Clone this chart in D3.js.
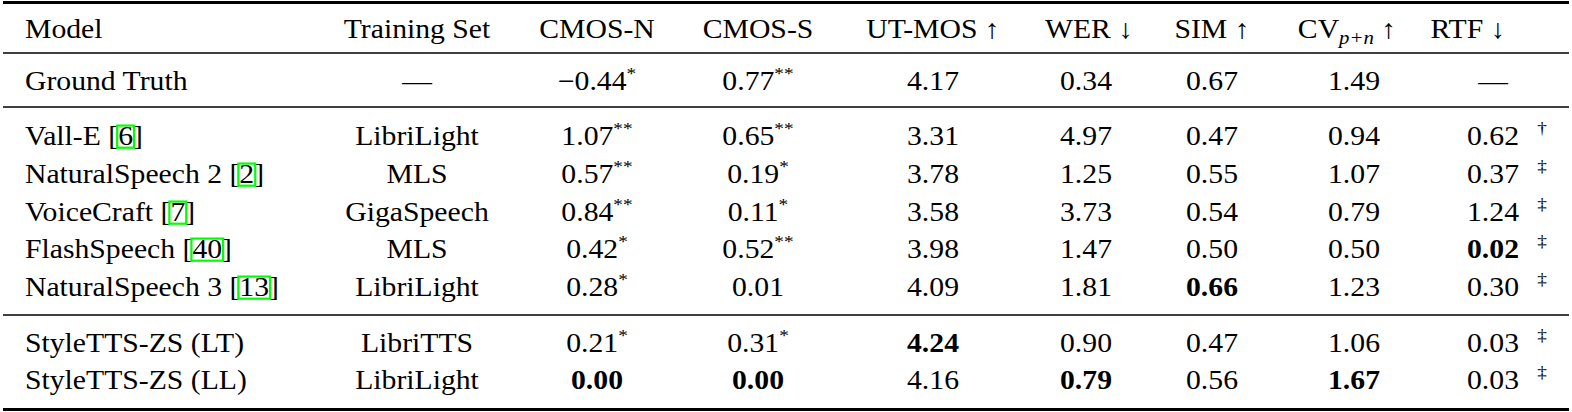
<!DOCTYPE html>
<html><head><meta charset="utf-8">
<script src="https://cdn.jsdelivr.net/npm/d3@7"></script>
<style>body{margin:0;background:#fff}</style>
</head><body><svg id="c" width="1572" height="412"></svg>
<script>
const models=["Ground Truth","Vall-E","NaturalSpeech 2","VoiceCraft","FlashSpeech","NaturalSpeech 3","StyleTTS-ZS (LT)","StyleTTS-ZS (LL)"];
const cites=[null,"6","2","7","40","13",null,null];
const trainSets=["—","LibriLight","MLS","GigaSpeech","MLS","LibriLight","LibriTTS","LibriLight"];
const cmosN=["−0.44","1.07","0.57","0.84","0.42","0.28","0.21","0.00"];
const cmosNSig=["*","**","**","**","*","*","*",""];
const cmosS=["0.77","0.65","0.19","0.11","0.52","0.01","0.31","0.00"];
const cmosSSig=["**","**","*","*","**","","*",""];
const utmos=["4.17","3.31","3.78","3.58","3.98","4.09","4.24","4.16"];
const wer=["0.34","4.97","1.25","3.73","1.47","1.81","0.90","0.79"];
const sim=["0.67","0.47","0.55","0.54","0.50","0.66","0.47","0.56"];
const cv=["1.49","0.94","1.07","0.79","0.50","1.23","1.06","1.67"];
const rtf=["—","0.62","0.37","1.24","0.02","0.30","0.03","0.03"];
const rtfMark=["","†","‡","‡","‡","‡","‡","‡"];
const bold={cmosN:[7],cmosS:[7],utmos:[6],wer:[7],sim:[5],cv:[7],rtf:[4]};
const headers=[["train","Training Set"],["cmosN","CMOS-N"],["cmosS","CMOS-S"],["utmos","UT-MOS ↑"],["wer","WER ↓"],["sim","SIM ↑"],["cv","CV"],["rtf","RTF ↓"]];

const cols=["train","cmosN","cmosS","utmos","wer","sim","cv","rtf"];
const x=d3.scaleOrdinal().domain(cols).range([417,597,758,933,1086,1212,1354,1493]);
const rowY=d3.scaleOrdinal().domain(d3.range(8)).range([90,145,183,221,258,296,352,389]);
const FS=27, SX=1.1;
const FONT="'Liberation Serif', 'Times New Roman', Times, 'Nimbus Roman', 'DejaVu Serif', serif";
const svg=d3.select("#c");
const g=svg.append("g").attr("font-family",FONT).attr("fill","#000");
function T(px,py,anchor,bld){return g.append("text").attr("font-family",FONT).attr("transform",`translate(${px},${py}) scale(${SX},1)`).attr("text-anchor",anchor).attr("font-size",FS).attr("font-weight",bld?"bold":null);}

[[2.5,3],[53,1.6],[107,1.6],[315,1.6],[409.5,3]].forEach(([y,w])=>g.append("line").attr("x1",3).attr("x2",1569).attr("y1",y).attr("y2",y).attr("stroke","#000").attr("stroke-width",w));

const HY=38;
T(25,HY,"start").text("Model");
headers.forEach(([k,t])=>{
  if(k==="cv"){const e=T(1347,HY,"middle");e.append("tspan").text("CV");e.append("tspan").attr("font-style","italic").attr("font-size",FS*0.7).attr("dy",6).text("p+n");e.append("tspan").attr("dy",-6).text(" ↑");}
  else T(k==="rtf"?1468:(k==="wer"?1089:x(k)),HY,"middle").text(t);
});

const data={cmosN,cmosS,utmos,wer,sim,cv,rtf};
const sig={cmosN:cmosNSig,cmosS:cmosSSig};
models.forEach((m,i)=>{
  const y=rowY(i);
  const t=T(25,y,"start");
  if(cites[i]){
    t.append("tspan").text(m+" [");
    const w1=t.node().getComputedTextLength()*SX;
    t.append("tspan").text(cites[i]);
    const w2=t.node().getComputedTextLength()*SX;
    t.append("tspan").text("]");
    g.append("rect").attr("x",25+w1-1).attr("y",y-FS*0.72).attr("width",w2-w1+2).attr("height",FS*0.82)
      .attr("fill","none").attr("stroke","#00ff00").attr("stroke-width",2.2);
  } else t.text(m);
  T(x("train"),y,"middle").text(trainSets[i]);
  Object.keys(data).forEach(k=>{
    const isB=(bold[k]||[]).includes(i);
    const e=T(x(k),y,"middle",isB);
    e.append("tspan").text(data[k][i]);
    if(sig[k]&&sig[k][i]) e.append("tspan").attr("font-size",FS*0.65).attr("font-weight","normal").attr("dy",-11).text(sig[k][i]);
  });
  if(rtfMark[i]) T(1542,y-11,"middle").attr("font-size",FS*0.65).text(rtfMark[i]);
});
</script></body></html>
